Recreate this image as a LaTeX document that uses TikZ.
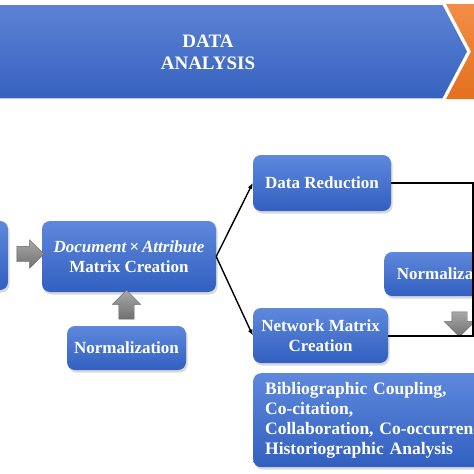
\documentclass[tikz,border=0pt]{standalone}
\usepackage{fontspec}
\setmainfont{Liberation Serif}
\usetikzlibrary{
    positioning,
    shapes.arrows,
    shadows,
    arrows.meta
    }

\definecolor{boxtop}{RGB}{94,136,220}
\definecolor{boxbottom}{RGB}{50,96,192}
\definecolor{bannertop}{RGB}{92,130,212}
\definecolor{bannerbottom}{RGB}{54,98,190}
\definecolor{chevtop}{RGB}{242,142,70}
\definecolor{chevbottom}{RGB}{228,112,30}
\definecolor{arrowtop}{RGB}{168,168,168}
\definecolor{arrowbottom}{RGB}{112,112,112}

\begin{document}
\begin{tikzpicture}[x=1pt, y=-1pt]
% chktex-file 8
\tikzset{stage/.style =
        {
            rectangle,
            rounded corners=8pt,
            top color=boxtop,
            bottom color=boxbottom,
            drop shadow={shadow xshift=1.5pt, shadow yshift=-2.5pt, opacity=0.3},
            text=white,
            align=center,
            inner sep=0pt,
            font=\fontsize{17}{20.5}\selectfont\bfseries
        }
}

\tikzset{grayarrow/.style =
        {
            single arrow,
            single arrow head extend=6.5pt,
            inner xsep=0pt,
            inner ysep=7.5pt,
            minimum width=28pt,
            top color=arrowtop,
            bottom color=arrowbottom,
            draw=black!60,
            thin
        }
}

\tikzset{link/.style = {
            line width=1.4pt,
            -{Latex[length=6pt, width=5pt]}
        }
}

\tikzset{bar/.style = {
            line width=1.4pt
        }
}

		\useasboundingbox (0,0) rectangle (474,474);
		\fill[white] (0,0) rectangle (474,474);
		\clip (0,0) rectangle (474,474);

		% banner
		\shade[top color=chevtop, bottom color=chevbottom]
			(446,4) -- (520,4) -- (520,99) -- (446,99) -- (471,51.5) -- cycle;
		\shade[top color=bannertop, bottom color=bannerbottom, draw=white, line width=1.5pt]
			(-10,4) -- (443,4) -- (468,51.5) -- (443,99) -- (-10,99) -- cycle;
		\node[text=white, align=center, font=\fontsize{19}{22}\selectfont\bfseries] (banner) at (208,52) {DATA\\ANALYSIS};

		% boxes
		\node[stage, minimum width=90pt, minimum height=69pt] (prev) at (-37,255.5) {};
		\node[stage, minimum width=174pt, minimum height=71pt] (docmat) at (129,256.5)
			{\textit{Document}\,×\,\textit{Attribute}\\Matrix Creation};
		\node[stage, minimum width=119pt, minimum height=44pt] (normA) at (126.5,348) {Normalization};
		\node[stage, minimum width=138pt, minimum height=56pt] (reduce) at (322,183) {Data Reduction};
		\node[stage, minimum width=135pt, minimum height=55pt] (netmat) at (320.5,335.5) {Network Matrix\\Creation};
		\node[stage, minimum width=130pt, minimum height=44pt, anchor=west, align=left, inner xsep=9pt] (normB) at (384,274) {Normalization};
		\node[stage, anchor=north west, align=left, text width=290pt, minimum height=94pt, inner xsep=12pt, inner ysep=9pt,
			font=\fontsize{17.5}{20}\selectfont\bfseries] (measures) at (253,373)
			{Bibliographic Coupling,\\Co-citation,\\Collaboration, Co-occurrence,\\Historiographic Analysis};

		% block arrows
		\node[grayarrow, minimum height=27pt] (stepA) at (26.5,254) {};
		\node[grayarrow, minimum height=29pt, rotate=90] (stepB) at (126.5,308.5) {};
		\node[grayarrow, minimum height=25pt, minimum width=30pt, single arrow head extend=7.5pt, rotate=-90] (stepC) at (459.5,320.5) {};

		% connectors
		\coordinate (joinT) at (473,183);
		\coordinate (joinB) at (473,336);

		\foreach \start / \finish in {docmat/reduce, docmat/netmat}
			{
				\draw [link] (\start.east) -- (\finish.west);
			}

		\draw [bar] (reduce.east) -- (joinT) -- (joinB) -- (netmat.east |- joinB);

	\end{tikzpicture}
\end{document}
